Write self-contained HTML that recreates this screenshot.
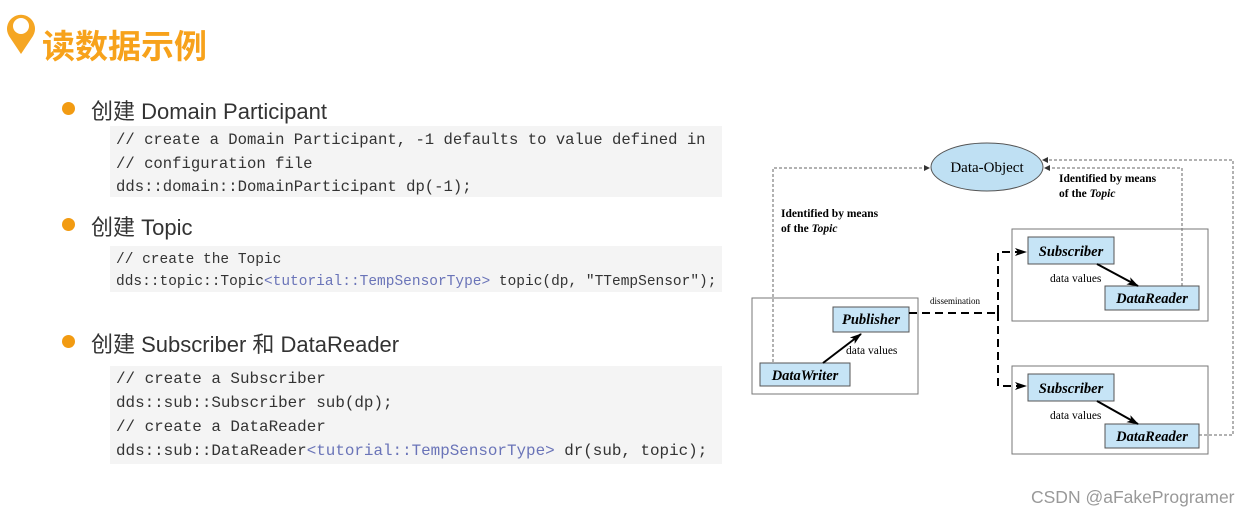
<!DOCTYPE html>
<html><head><meta charset="utf-8"><style>
body{margin:0;width:1260px;height:518px;background:#fff;position:relative;overflow:hidden;font-family:"Liberation Sans","Noto Sans CJK SC",sans-serif;}
.abs{position:absolute;}
.title{left:42px;top:20px;font-size:33px;font-weight:bold;color:#f7a21b;font-family:"Noto Sans CJK SC","WenQuanYi Zen Hei",sans-serif;}
.h{left:91px;font-size:22px;color:#333;white-space:nowrap;}
.dot{width:13px;height:13px;border-radius:50%;background:#f29b12;left:62px;}
.code{background:#f4f4f4;left:110px;width:612px;}
.code pre{margin:0;font-family:"Liberation Mono",monospace;color:#333;position:absolute;left:6px;white-space:pre;}
.b{color:#6a74b8;}
</style></head><body>
<svg class="abs" style="left:4px;top:10px" width="34" height="46" viewBox="0 0 34 46">
<path d="M17 44 L5 26 A14 14 0 1 1 29 26 Z" fill="#f5a623"/>
<circle cx="17" cy="16" r="8" fill="#fff"/>
</svg>
<div class="abs title">读数据示例</div>

<div class="abs dot" style="top:102px"></div>
<div class="abs h" style="top:94px">创建 Domain Participant</div>
<div class="abs code" style="top:126px;height:71px"><pre style="top:3px;font-size:15.6px;line-height:23.5px">// create a Domain Participant, -1 defaults to value defined in
// configuration file
dds::domain::DomainParticipant dp(-1);</pre></div>

<div class="abs dot" style="top:218px"></div>
<div class="abs h" style="top:210px">创建 Topic</div>
<div class="abs code" style="top:246px;height:46px"><pre style="top:3px;font-size:14.5px;line-height:22px">// create the Topic
dds::topic::Topic<span class="b">&lt;tutorial::TempSensorType&gt;</span> topic(dp, "TTempSensor");</pre></div>

<div class="abs dot" style="top:335px"></div>
<div class="abs h" style="top:327px">创建 Subscriber 和 DataReader</div>
<div class="abs code" style="top:366px;height:98px"><pre style="top:1px;font-size:15.9px;line-height:24px">// create a Subscriber
dds::sub::Subscriber sub(dp);
// create a DataReader
dds::sub::DataReader<span class="b">&lt;tutorial::TempSensorType&gt;</span> dr(sub, topic);</pre></div>

<svg class="abs" style="left:0;top:0" width="1260" height="518" font-family="Liberation Serif,serif">
<defs>
<marker id="a" markerUnits="userSpaceOnUse" markerWidth="12" markerHeight="10" refX="11" refY="5" orient="auto"><path d="M0,1 L12,5 L0,9 L3,5 Z" fill="#000"/></marker>
<marker id="s" markerUnits="userSpaceOnUse" markerWidth="6" markerHeight="6" refX="5" refY="3" orient="auto"><path d="M0,0 L6,3 L0,6 Z" fill="#333"/></marker>
</defs>
<g fill="none" stroke="#666" stroke-width="1" stroke-dasharray="3,2">
<polyline points="773,362 773,168 929,168" marker-end="url(#s)"/>
<polyline points="1182,286 1182,168 1045,168" marker-end="url(#s)"/>
<polyline points="1199,435 1233,435 1233,160 1043,160" marker-end="url(#s)"/>
</g>
<ellipse cx="987" cy="167" rx="56" ry="24" fill="#bfe0f3" stroke="#555"/>
<text x="987" y="172" font-size="15" text-anchor="middle">Data-Object</text>
<g fill="none" stroke="#777">
<rect x="752" y="298" width="166" height="96"/>
<rect x="1012" y="229" width="196" height="92"/>
<rect x="1012" y="366" width="196" height="88"/>
</g>
<g fill="#c6e4f6" stroke="#555">
<rect x="833" y="307" width="76" height="25"/>
<rect x="760" y="363" width="90" height="23"/>
<rect x="1028" y="237" width="86" height="27"/>
<rect x="1105" y="286" width="94" height="24"/>
<rect x="1028" y="374" width="86" height="27"/>
<rect x="1105" y="424" width="94" height="24"/>
</g>
<g font-size="14.5" font-weight="bold" font-style="italic" text-anchor="middle">
<text x="871" y="324">Publisher</text>
<text x="805" y="380">DataWriter</text>
<text x="1071" y="256">Subscriber</text>
<text x="1152" y="303">DataReader</text>
<text x="1071" y="393">Subscriber</text>
<text x="1152" y="441">DataReader</text>
</g>
<g font-size="11.5">
<text x="846" y="354">data values</text>
<text x="1050" y="282">data values</text>
<text x="1050" y="419">data values</text>
<text x="781" y="217" font-weight="bold">Identified by means</text>
<text x="781" y="232" font-weight="bold">of the <tspan font-style="italic">Topic</tspan></text>
<text x="1059" y="182" font-weight="bold">Identified by means</text>
<text x="1059" y="197" font-weight="bold">of the <tspan font-style="italic">Topic</tspan></text>
<text x="930" y="304" font-size="9">dissemination</text>
</g>
<g stroke="#000" stroke-width="2" fill="none">
<line x1="823" y1="363" x2="861" y2="334" marker-end="url(#a)"/>
<line x1="1097" y1="264" x2="1138" y2="286" marker-end="url(#a)"/>
<line x1="1097" y1="401" x2="1138" y2="424" marker-end="url(#a)"/>
<g stroke-dasharray="8,5">
<polyline points="909,313 998,313"/>
<polyline points="998,313 998,252 1026,252" marker-end="url(#a)"/>
<polyline points="998,313 998,386 1026,386" marker-end="url(#a)"/>
</g>
</g>
</svg>
<div class="abs" style="left:1031px;top:487px;font-size:17.5px;color:#999">CSDN @aFakeProgramer</div>
</body></html>
